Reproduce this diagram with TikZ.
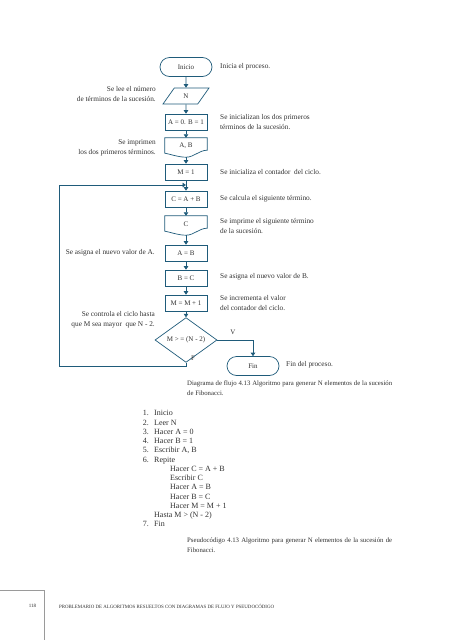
\documentclass[tikz,border=0pt]{standalone}
\usepackage{fontspec}
\setmainfont{Liberation Serif}
\usetikzlibrary{shapes.geometric,shapes.misc,arrows.meta,calc}
\definecolor{flow}{HTML}{1F5B7A}
\definecolor{txt}{HTML}{303030}
\definecolor{foot}{HTML}{9A9A9A}
\begin{document}
\begin{tikzpicture}[x=1pt,y=-1pt,
  box/.style={draw=flow, line width=0.7pt, minimum width=42pt, minimum height=16pt, inner sep=0pt, font=\fontsize{7}{8}\selectfont, text=txt},
  term/.style={box, rounded rectangle, minimum width=52pt, minimum height=19pt},
  io/.style={box, trapezium, trapezium left angle=62, trapezium right angle=118, trapezium stretches=true, minimum width=46pt, minimum height=16pt},
  dec/.style={box, diamond, minimum width=62pt, minimum height=36pt},
  docbox/.style={minimum width=42pt, minimum height=16pt, inner sep=0pt, font=\fontsize{7}{8}\selectfont, text=txt},
  rnote/.style={font=\fontsize{7.3}{10}\selectfont, text=txt, align=left, anchor=west, inner sep=0pt},
  lnote/.style={font=\fontsize{7.3}{10}\selectfont, text=txt, align=right, anchor=east, inner sep=0pt},
  capt/.style={font=\fontsize{6.75}{10}\selectfont, text=txt, align=justify, anchor=north west, inner sep=0pt, text width=205pt},
  pc/.style={font=\fontsize{8}{9}\selectfont, text=txt, anchor=base west, inner sep=0pt},
  pn/.style={font=\fontsize{8}{9}\selectfont, text=txt, anchor=base east, inner sep=0pt},
  arr/.style={draw=flow, line width=0.7pt, -{Triangle[length=3.5pt,width=4.5pt]}},
  conn/.style={draw=flow, line width=0.7pt},
  lbl/.style={font=\fontsize{7}{8}\selectfont, text=txt, inner sep=0pt}
]
\useasboundingbox (0,0) rectangle (474,640);

% nodes
\node[term] (ini) at (186,67) {Inicio};
\node[io] (n) at (186,96) {N};
\node[box] (a0) at (186,122) {A = 0. B = 1};
\node[docbox] (ab) at (186,146) {A, B};
\node[box] (m1) at (186,172) {M = 1};
\node[box] (cab) at (186,199) {C = A + B};
\node[docbox] (c) at (186,224) {C};
\node[box] (ab2) at (186,253) {A = B};
\node[box] (bc) at (186,278) {B = C};
\node[box] (mm) at (186,303) {M = M + 1};
\node[dec] (d) at (186,340) {M > = (N - 2)};
\node[term] (fin) at (253,366) {Fin};

% document shapes
\foreach \q in {ab,c}{
  \draw[conn] (\q.north west) -- (\q.north east) -- ($(\q.south east)+(0,-4)$)
    .. controls ($(\q.south east)+(-8,-4)$) and ($(\q.south)+(8,3)$) .. ($(\q.south)+(0,3)$)
    .. controls ($(\q.south)+(-8,3)$) and ($(\q.south west)+(6,0)$) .. ($(\q.south west)+(0,-1)$) -- cycle;
  \coordinate (\q b) at ($(\q.south)+(0,3)$);
}

% connectors
\coordinate (j) at (186,185);
\coordinate (lb) at (186,366);
\coordinate (lbl) at (59,366);
\coordinate (ltl) at (59,185);
\draw[arr] (ini) -- (n);
\draw[arr] (n) -- (a0);
\draw[arr] (a0) -- (ab);
\draw[arr] (abb) -- (m1);
\draw[arr] (m1) -- (cab);
\draw[arr] (cab) -- (c);
\draw[arr] (cb) -- (ab2);
\draw[arr] (ab2) -- (bc);
\draw[arr] (bc) -- (mm);
\draw[arr] (mm) -- (d);
\draw[arr] (d.east) -| (fin.north);
\draw[arr] (d.south) -- (lb) -- (lbl) -- (ltl) -- (j);
\node[lbl] (v) at (233,332) {V};
\node[lbl] (f) at (193,358) {F};

% right notes
\node[rnote] (t1) at (220,67) {Inicia el proceso.};
\node[rnote] (t2) at (220,122) {Se inicializan los dos primeros\\términos de la sucesión.};
\node[rnote] (t3) at (220,172) {Se inicializa el contador\ \ del ciclo.};
\node[rnote] (t4) at (220,199) {Se calcula el siguiente término.};
\node[rnote] (t5) at (220,226) {Se imprime el siguiente término\\de la sucesión.};
\node[rnote] (t6) at (220,277) {Se asigna el nuevo valor de B.};
\node[rnote] (t7) at (220,303) {Se incrementa el valor\\del contador del ciclo.};
\node[rnote] (t8) at (286,365) {Fin del proceso.};
% left notes
\node[lnote] (l1) at (156,94) {Se lee el número\\de términos de la sucesión.};
\node[lnote] (l2) at (156,148) {Se imprimen\\los dos primeros términos.};
\node[lnote] (l3) at (155,253) {Se asigna el nuevo valor de A.};
\node[lnote] (l4) at (155,320) {Se controla el ciclo hasta\\que M sea mayor\ \ que N - 2.};

% captions
\node[capt] (c1) at (187,381) {Diagrama de flujo 4.13 Algoritmo para generar N elementos de la sucesión\linebreak de Fibonacci.};
\node[capt] (c2) at (187,538) {Pseudocódigo 4.13 Algoritmo para generar N elementos de la sucesión de\linebreak Fibonacci.};

% pseudocode
\foreach \t [count=\i] in {Inicio,Leer N,Hacer A = 0,Hacer B = 1,{Escribir A, B},Repite}{
  \node[pn] (pn\i) at (149,{413+2.8+(\i-1)*9.25}) {\i.};
  \node[pc] (pc\i) at (154,{413+2.8+(\i-1)*9.25}) {\t};
}
\foreach \t [count=\i] in {Hacer C = A + B,Escribir C,Hacer A = B,Hacer B = C,Hacer M = M + 1}{
  \node[pc] (pi\i) at (170,{413+2.8+(\i+5)*9.25}) {\t};
}
\node[pc] (ph) at (154,{413+2.8+11*9.25}) {Hasta M > (N - 2)};
\node[pn] (pn7) at (149,{413+2.8+12*9.25}) {7.};
\node[pc] (pc7) at (154,{413+2.8+12*9.25}) {Fin};

% footer
\draw[foot, line width=0.8pt] (0,590) -- (44,590) -- (44,640);
\node[font=\fontsize{5}{6}\selectfont, text=txt, inner sep=0pt] (pg) at (32.5,606) {118};
\node[font=\fontsize{4.9}{6}\selectfont, text=txt, anchor=west, inner sep=0pt] (ft) at (59,606) {PROBLEMARIO DE ALGORITMOS RESUELTOS CON DIAGRAMAS DE FLUJO Y PSEUDOCÓDIGO};
\end{tikzpicture}
\end{document}
